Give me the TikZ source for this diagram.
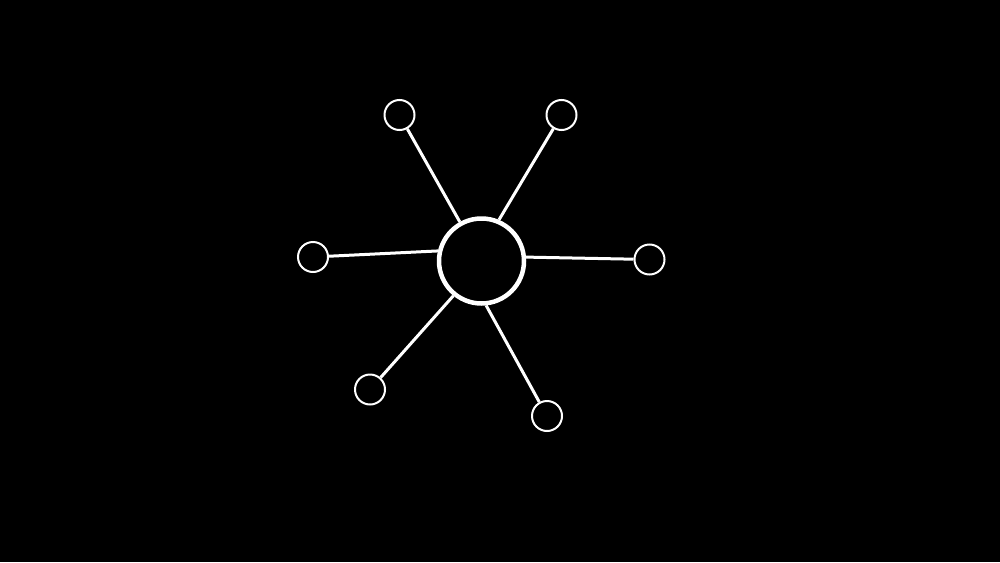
\documentclass[tikz,border=0pt]{standalone}
\begin{document}
\begin{tikzpicture}[x=1pt,y=-1pt,
  hub/.style={circle,draw=white,line width=4.5pt,minimum size=85pt,inner sep=0pt},
  leaf/.style={circle,draw=white,line width=2pt,minimum size=30pt,inner sep=0pt},
  spoke/.style={draw=white,line width=3pt}]
\fill[black] (0,0) rectangle (1000,562);
\useasboundingbox (0,0) rectangle (1000,562);
\node[hub] (c) at (481.5,261) {};
\node[leaf] (tl) at (399.5,115) {};
\node[leaf] (tr) at (561.5,115) {};
\node[leaf] (l) at (313,257) {};
\node[leaf] (r) at (649.5,259.5) {};
\node[leaf] (bl) at (370,389.5) {};
\node[leaf] (br) at (547,416) {};
\draw[spoke] (c.119.5) -- (tl);
\draw[spoke] (c.67) -- (tr);
\draw[spoke] (c.167) -- (l);
\draw[spoke] (c.5) -- (r);
\draw[spoke] (c.231) -- (bl);
\draw[spoke] (c.276) -- (br);
\end{tikzpicture}
\end{document}
